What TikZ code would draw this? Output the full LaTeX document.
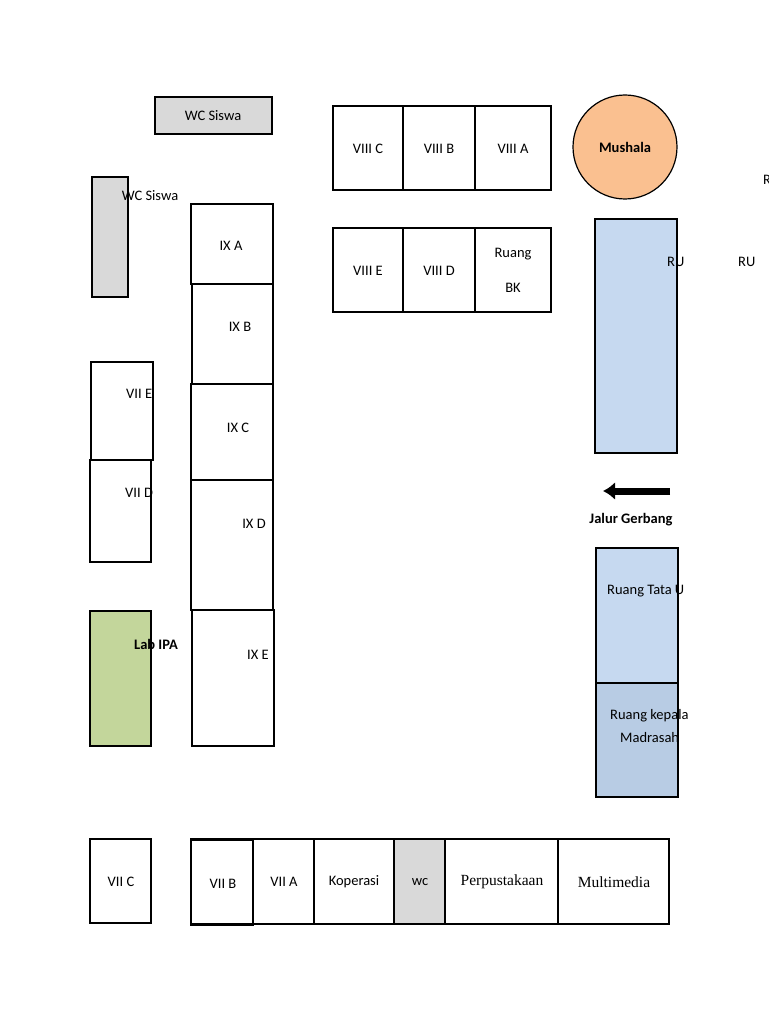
\documentclass[tikz,border=0pt]{standalone}
\usepackage{fontspec}
\usetikzlibrary{arrows.meta}
\setmainfont{Carlito}
\newfontfamily\serifb{Liberation Serif}
\begin{document}
\begin{tikzpicture}[x=1pt,y=-1pt,
 room/.style={draw=black,line width=2pt},
 thin/.style={draw=black,line width=1.2pt},
 lbl/.style={font=\fontsize{14.5}{17}\selectfont,inner sep=0pt},
 blbl/.style={font=\bfseries\fontsize{14.5}{17}\selectfont,inner sep=0pt}]
\useasboundingbox (0,0) rectangle (768,1024);
\fill[white] (0,0) rectangle (768,1024);
\definecolor{gr}{HTML}{D9D9D9}\definecolor{bl}{HTML}{C6D9F0}\definecolor{bl2}{HTML}{B8CCE4}
\definecolor{org}{HTML}{FAC090}\definecolor{grn}{HTML}{C3D69B}
% WC
\path[room,fill=gr] (155,97) rectangle (272,134);
\node[lbl] (wc1) at (213,116) {WC Siswa};
\path[room,fill=gr] (92,177) rectangle (128,297);
\node[lbl] (wc2) at (150,196) {WC Siswa};
% VIII rows
\path[room] (333,106) rectangle (403,190); \node[lbl] at (368,149) {VIII C};
\path[room] (403,106) rectangle (475,190); \node[lbl] at (439,149) {VIII B};
\path[room] (475,106) rectangle (551,190); \node[lbl] at (513,149) {VIII A};
\path[room] (333,228) rectangle (403,312); \node[lbl] at (368,271) {VIII E};
\path[room] (403,228) rectangle (475,312); \node[lbl] at (439,271) {VIII D};
\path[room] (475,228) rectangle (551,312); \node[lbl] at (513,254) {Ruang}; \node[lbl] at (513,288) {BK};
% Mushala
\path[draw=black,line width=1.2pt,fill=org] (625,147) circle (52);
\node[blbl] (mus) at (625,147) {Mushala};
\node[lbl,anchor=west] at (763,180) {R};
% Ruang guru
\path[room,fill=bl] (595,219) rectangle (677,453);
\node[lbl,anchor=west] at (667,262) {RU};
\node[lbl,anchor=west] at (738,262) {RU};
% arrow
\draw[line width=7pt,-{Latex[length=12pt,width=18pt]}] (670,491) -- (603,491);
\node[blbl] at (631,520) {Jalur Gerbang};
% TU, kepala
\path[room,fill=bl] (596,548) rectangle (678,683);
\node[lbl,anchor=west] at (607,591) {Ruang Tata U};
\path[room,fill=bl2] (596,683) rectangle (678,797);
\node[lbl,anchor=west] at (610,716) {Ruang kepala};
\node[lbl,anchor=west] at (620,738) {Madrasah};
% IX column
\path[room] (191,204) rectangle (273,284); \node[lbl] at (231,246) {IX A};
\path[thin] (192,284) rectangle (273,384); \draw[line width=2pt] (192,284)--(273,284)--(273,384); \node[lbl] at (240,327) {IX B};
\path[thin] (191,384) rectangle (273,480); \draw[line width=2pt] (191,384)--(191,480); \node[lbl] at (238,428) {IX C};
\path[thin] (191,480) rectangle (273,610); \draw[line width=2pt] (191,480)--(191,610); \node[lbl] at (254,524) {IX D};
\path[room] (192,610) rectangle (274,746); \node[lbl] at (258,655) {IX E};
% VII left
\path[thin] (91,362) rectangle (153,460); \draw[line width=2pt] (153,362)--(153,460)--(91,460); \node[lbl,anchor=west] at (126,394) {VII E};
\path[thin] (90,460) rectangle (151,562); \node[lbl,anchor=west] at (125,493) {VII D};
\path[room,fill=grn] (90,611) rectangle (151,746);
\node[blbl] at (156,644) {Lab IPA};
\path[room] (90,839) rectangle (151,923); \node[lbl] at (121,882) {VII C};
% bottom row
\path[thin] (191,839) rectangle (669,924);
\path[room] (191,840) rectangle (253,925); \node[lbl] at (223,884) {VII B};
\path[thin] (253,839) rectangle (314,924); \node[lbl] at (284,882) {VII A};
\path[thin] (314,839) rectangle (394,924); \node[lbl] at (354,882) {Koperasi};
\path[thin,fill=gr] (394,839) rectangle (445,924); \node[lbl] at (420,882) {wc};
\path[thin] (445,839) rectangle (558,924); \node[lbl,font=\serifb\fontsize{15.5}{18}\selectfont] at (502,882) {Perpustakaan};
\path[thin] (558,839) rectangle (669,924); \node[lbl,font=\serifb\fontsize{15.5}{18}\selectfont] at (614,882) {Multimedia};
\end{tikzpicture}
\end{document}
